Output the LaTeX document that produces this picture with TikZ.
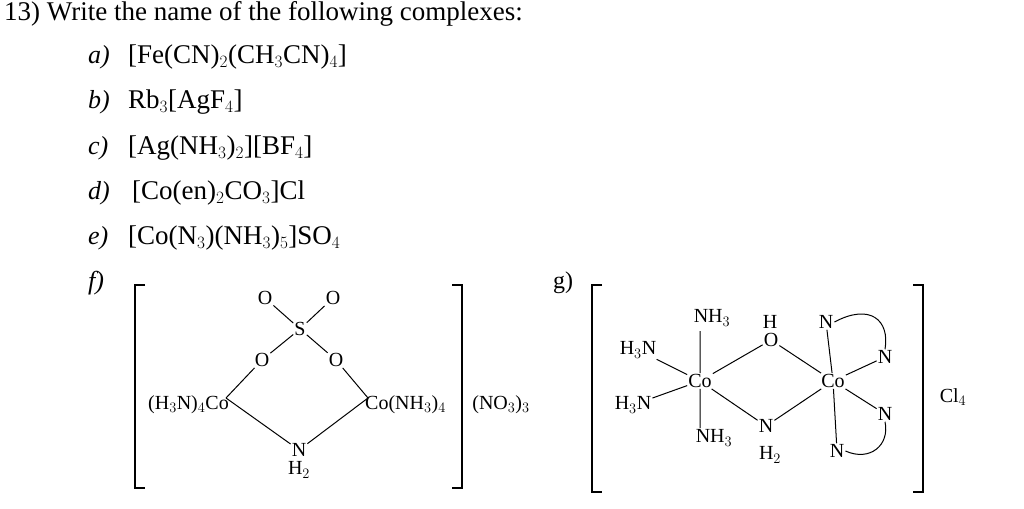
\documentclass[tikz,border=0pt]{standalone}
\usepackage{fontspec}
\setmainfont{Liberation Serif}
\begin{document}
\begin{tikzpicture}[x=1pt,y=-1pt,
  big/.style={inner sep=0pt,anchor=west,font=\fontsize{27}{30}\selectfont},
  lab/.style={inner sep=0pt,anchor=west,font=\fontsize{26}{30}\selectfont\itshape},
  atm/.style={inner sep=1pt,font=\fontsize{20}{22}\selectfont},
  bond/.style={line width=1pt},
  brk/.style={line width=1.3pt}]
\useasboundingbox (0,0) rectangle (1024,508);
\node[big] (t) at (4,14) {13) Write the name of the following complexes:};
\node[lab] (la) at (88,57) {a)};  \node[big] (ta) at (128,57) {[Fe(CN)$_2$(CH$_3$CN)$_4$]};
\node[lab] (lb) at (88,102) {b)}; \node[big] (tb) at (128,102) {Rb$_3$[AgF$_4$]};
\node[lab] (lc) at (88,148) {c)}; \node[big] (tc) at (128,148) {[Ag(NH$_3$)$_2$][BF$_4$]};
\node[lab] (ld) at (88,193) {d)}; \node[big] (td) at (132,193) {[Co(en)$_2$CO$_3$]Cl};
\node[lab] (le) at (88,238) {e)}; \node[big] (te) at (128,238) {[Co(N$_3$)(NH$_3$)$_5$]SO$_4$};
\node[lab] (lf) at (88,283) {f)};
\node[big,font=\fontsize{24}{28}\selectfont] (lg) at (553,283) {g)};
% f
\draw[brk] (145,285) -- (135,285) -- (135,488) -- (145,488);
\draw[brk] (452,285) -- (462,285) -- (462,488) -- (452,488);
\node[atm] (o1) at (265,298) {O};
\node[atm] (o2) at (333,298) {O};
\node[atm] (s) at (300,329) {S};
\node[atm] (o3) at (262,360) {O};
\node[atm] (o4) at (336,360) {O};
\node[atm,anchor=east] (co1) at (230,405) {(H$_3$N)$_4$Co};
\node[atm,anchor=west] (co2) at (364,405) {Co(NH$_3$)$_4$};
\node[atm] (n1) at (299,450) {N};
\node[atm] (h1) at (299,470) {H$_2$};
\node[atm] (no3) at (501,405) {(NO$_3$)$_3$};
\coordinate (c1) at (226,398);
\coordinate (c2) at (368,398);
\draw[bond] (o1)--(s) (o2)--(s) (s)--(o3) (s)--(o4) (o3)--(c1) (o4)--(c2) (c1)--(n1) (n1)--(c2);
% g
\draw[brk] (602,285) -- (592,285) -- (592,492) -- (602,492);
\draw[brk] (913,285) -- (923,285) -- (923,492) -- (913,492);
\node[atm] (na) at (712,318) {NH$_3$};
\node[atm] (hh) at (770,322) {H};
\node[atm] (oo) at (771,340) {O};
\node[atm] (nt) at (826,322) {N};
\node[atm] (hn1) at (638,350) {H$_3$N};
\node[atm] (nr1) at (885,357) {N};
\node[atm] (ca) at (700,381) {Co};
\node[atm] (cb) at (833,381) {Co};
\node[atm] (hn2) at (633,405) {H$_3$N};
\node[atm] (nr2) at (885,414) {N};
\node[atm] (nb) at (714,438) {NH$_3$};
\node[atm] (nm) at (766,426) {N};
\node[atm] (h2) at (770,455) {H$_2$};
\node[atm] (nbr) at (837,451) {N};
\node[atm] (cl) at (953,397) {Cl$_4$};
\coordinate (va) at (700,331);
\coordinate (vb) at (700,428);
\draw[bond] (va)--(ca) (ca)--(vb) (hn1)--(ca) (hn2)--(ca) (ca)--(oo) (oo)--(cb) (ca)--(nm) (nm)--(cb)
  (nt)--(cb) (cb)--(nbr) (cb)--(nr1) (cb)--(nr2);
\draw[bond] (nt.east) .. controls (870,303) and (890,320) .. (nr1.north);
\draw[bond] (nr2.south) .. controls (890,445) and (870,462) .. (nbr.east);
\end{tikzpicture}
\end{document}
